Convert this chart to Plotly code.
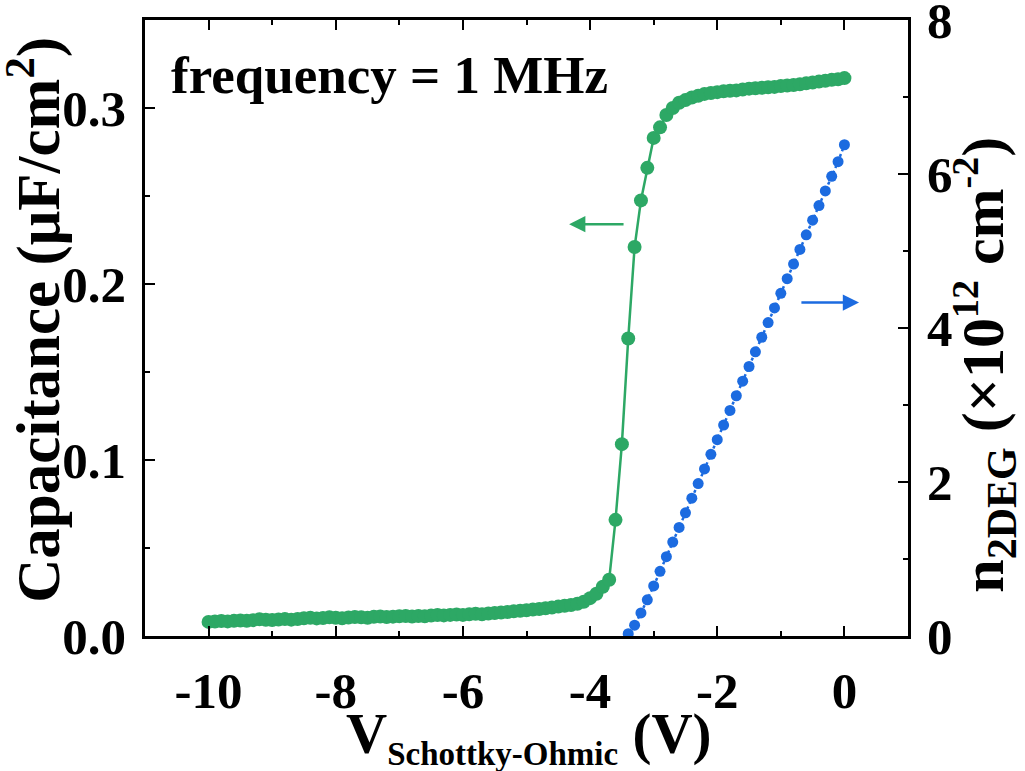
import plotly.graph_objects as go

# ---------------- data ----------------
v_cap = [-10.0, -9.9, -9.8, -9.7, -9.6, -9.5, -9.4, -9.3, -9.2, -9.1,
         -9.0, -8.9, -8.8, -8.7, -8.6, -8.5, -8.4, -8.3, -8.2, -8.1,
         -8.0, -7.9, -7.8, -7.7, -7.6, -7.5, -7.4, -7.3, -7.2, -7.1,
         -7.0, -6.9, -6.8, -6.7, -6.6, -6.5, -6.4, -6.3, -6.2, -6.1,
         -6.0, -5.9, -5.8, -5.7, -5.6, -5.5, -5.4, -5.3, -5.2, -5.1,
         -5.0, -4.9, -4.8, -4.7, -4.6, -4.5, -4.4, -4.3, -4.2, -4.1,
         -4.0, -3.9, -3.8, -3.7, -3.6, -3.5, -3.4, -3.3, -3.2, -3.1,
         -3.0, -2.9, -2.8, -2.7, -2.6, -2.5, -2.4, -2.3, -2.2, -2.1,
         -2.0, -1.9, -1.8, -1.7, -1.6, -1.5, -1.4, -1.3, -1.2, -1.1,
         -1.0, -0.9, -0.8, -0.7, -0.6, -0.5, -0.4, -0.3, -0.2, -0.1, 0.0]
capacitance = [0.0080, 0.0082, 0.0085, 0.0083, 0.0086, 0.0088, 0.0087, 0.0090, 0.0095, 0.0092,
               0.0091, 0.0094, 0.0096, 0.0093, 0.0097, 0.0101, 0.0103, 0.0100, 0.0102, 0.0106,
               0.0104, 0.0101, 0.0105, 0.0108, 0.0106, 0.0104, 0.0109, 0.0111, 0.0108, 0.0110,
               0.0112, 0.0114, 0.0111, 0.0113, 0.0112, 0.0116, 0.0119, 0.0117, 0.0120, 0.0122,
               0.0120, 0.0123, 0.0126, 0.0124, 0.0128, 0.0131, 0.0133, 0.0136, 0.0140, 0.0143,
               0.0146, 0.0150, 0.0153, 0.0158, 0.0162, 0.0167, 0.0172, 0.0176, 0.0183, 0.0195,
               0.0215, 0.0240, 0.0280, 0.0320, 0.0660, 0.1090, 0.1690, 0.2210, 0.2475, 0.2660,
               0.2830, 0.2890, 0.2960, 0.3000, 0.3030, 0.3045, 0.3060, 0.3070, 0.3080, 0.3085,
               0.3090, 0.3095, 0.3098, 0.3100, 0.3105, 0.3110, 0.3112, 0.3115, 0.3118, 0.3120,
               0.3125, 0.3128, 0.3130, 0.3135, 0.3140, 0.3145, 0.3150, 0.3155, 0.3160, 0.3163, 0.3170]

v_n = [-3.4, -3.3, -3.2, -3.1, -3.0, -2.9, -2.8, -2.7, -2.6, -2.5,
       -2.4, -2.3, -2.2, -2.1, -2.0, -1.9, -1.8, -1.7, -1.6, -1.5,
       -1.4, -1.3, -1.2, -1.1, -1.0, -0.9, -0.8, -0.7, -0.6, -0.5,
       -0.4, -0.3, -0.2, -0.1, 0.0]
n_2deg = [0.03, 0.14, 0.30, 0.47, 0.65, 0.84, 1.03, 1.22, 1.41, 1.60,
          1.79, 1.98, 2.17, 2.36, 2.55, 2.74, 2.93, 3.12, 3.31, 3.50,
          3.69, 3.88, 4.07, 4.26, 4.45, 4.64, 4.83, 5.02, 5.21, 5.40,
          5.59, 5.78, 5.97, 6.16, 6.38]

x_ticks = [-10, -8, -6, -4, -2, 0]
y_ticks = [0.0, 0.1, 0.2, 0.3]
y2_ticks = [0, 2, 4, 6, 8]

GREEN = "#2DA865"
BLUE = "#1C6BE0"
FONT = "Liberation Serif"

fig = go.Figure()
fig.add_trace(go.Scatter(
    x=v_cap, y=capacitance, mode="lines+markers",
    line=dict(color=GREEN, width=2.5),
    marker=dict(color=GREEN, size=14),
    yaxis="y", showlegend=False))
fig.add_trace(go.Scatter(
    x=v_n, y=n_2deg, mode="lines+markers",
    line=dict(color=BLUE, width=2.5, dash="dot"),
    marker=dict(color=BLUE, size=11),
    yaxis="y2", showlegend=False))

tickfont = dict(family=FONT, size=51, color="black")

common = dict(ticks="inside", ticklen=10, tickwidth=2, tickcolor="black",
              showline=True, linecolor="black", linewidth=2.5,
              showgrid=False, zeroline=False, tickfont=tickfont,
              ticklabeloverflow="allow", automargin=False)

fig.update_layout(
    width=1025, height=771,
    margin=dict(l=145, r=117, t=20, b=135),
    paper_bgcolor="white", plot_bgcolor="white",
    font=dict(family=FONT, color="black"),
    xaxis=dict(
        range=[-11, 1], tickvals=x_ticks, ticktext=[f"<b>{t}</b>" for t in x_ticks],
        minor=dict(ticks="inside", ticklen=5, tickwidth=2, tickcolor="black", dtick=1),
        mirror="ticks", ticklabelstandoff=8, **common),
    yaxis=dict(
        range=[0, 0.35], tickvals=y_ticks, ticktext=[f"<b>{t:.1f}</b>" for t in y_ticks],
        minor=dict(ticks="inside", ticklen=5, tickwidth=2, tickcolor="black", dtick=0.05),
        ticklabelstandoff=6, **common),
    yaxis2=dict(
        range=[0, 8], tickvals=y2_ticks, ticktext=[f"<b>{t}</b>" for t in y2_ticks],
        overlaying="y", side="right",
        minor=dict(ticks="inside", ticklen=5, tickwidth=2, tickcolor="black", dtick=1),
        ticklabelstandoff=6, **common),
)

# axis titles
fig.add_annotation(
    x=0.503, y=-0.164, xref="paper", yref="paper", xanchor="center", yanchor="middle",
    text="<b>V<sub><span style='font-size:33px'>Schottky-Ohmic</span></sub> (V)</b>",
    showarrow=False, font=dict(family=FONT, size=57, color="black"))
fig.add_annotation(
    x=-0.1445, y=0.513, xref="paper", yref="paper", xanchor="center", yanchor="middle",
    text="<b>Capacitance (μF/cm<sup>2</sup>)</b>", textangle=-90,
    showarrow=False, font=dict(family=FONT, size=61, color="black"))
fig.add_annotation(
    x=1.1005, y=0.44, xref="paper", yref="paper", xanchor="center", yanchor="middle",
    text=("<b>n<sub>2DEG</sub> (×10<sup><span style='font-size:38px'>12</span></sup>"
          " cm<sup><span style='font-size:38px'>-2</span></sup>)</b>"),
    textangle=-90, showarrow=False, font=dict(family=FONT, size=60, color="black"))

fig.add_annotation(
    x=-10.62, y=0.319, xref="x", yref="y", xanchor="left", yanchor="middle",
    text="<b>frequency = 1 MHz</b>", showarrow=False,
    font=dict(family=FONT, size=53, color="black"))

fig.add_annotation(
    x=-4.33, y=0.234, ax=-3.45, ay=0.234, xref="x", yref="y", axref="x", ayref="y",
    text="", showarrow=True, arrowhead=2, arrowsize=1.3, arrowwidth=2.5, arrowcolor=GREEN)
fig.add_annotation(
    x=0.23, y=4.33, ax=-0.70, ay=4.33, xref="x", yref="y2", axref="x", ayref="y2",
    text="", showarrow=True, arrowhead=2, arrowsize=1.3, arrowwidth=2.5, arrowcolor=BLUE)

fig.write_html("out.html")
